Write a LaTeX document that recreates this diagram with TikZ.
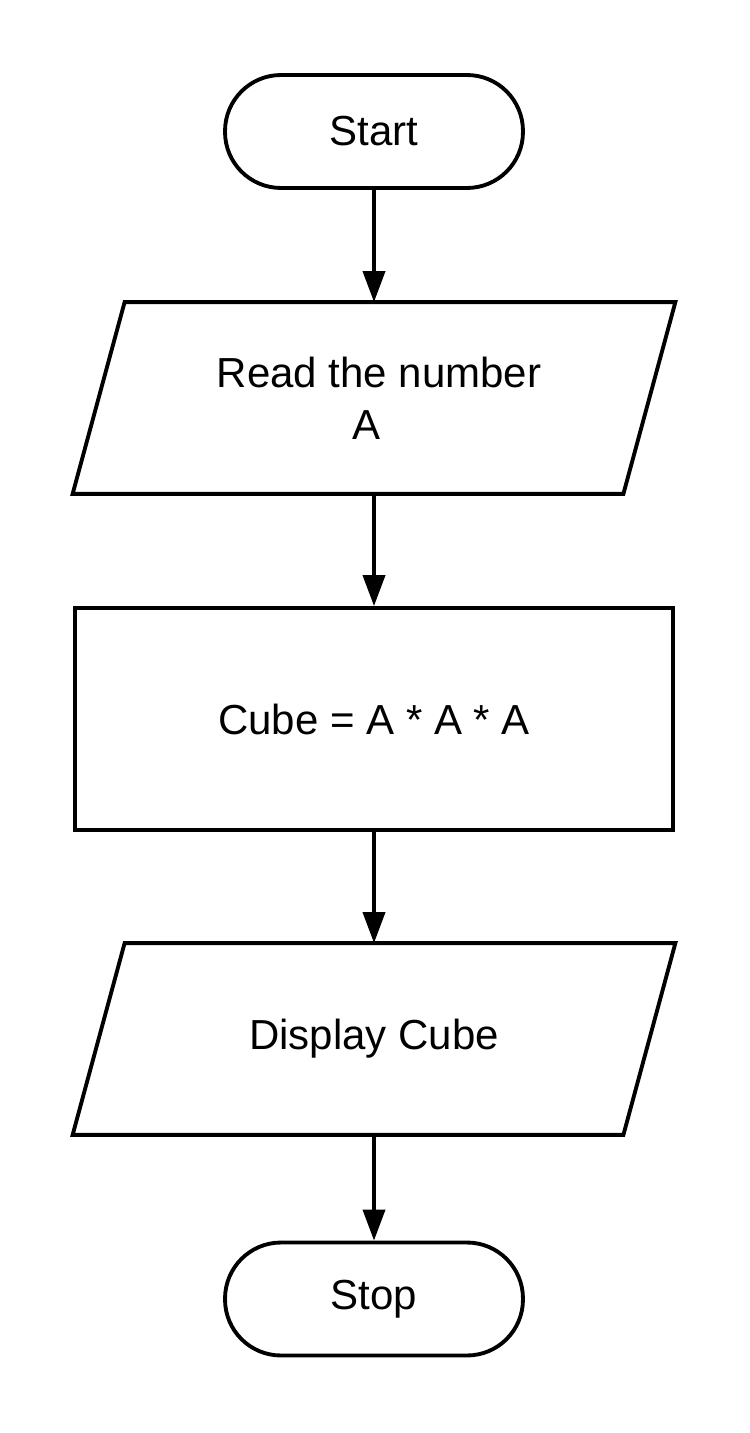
\documentclass[tikz,border=0pt]{standalone}
\usepackage{fontspec}
\setmainfont{Liberation Sans}
\usetikzlibrary{arrows.meta}

\begin{document}
\begin{tikzpicture}[x=0.02cm, y=-0.02cm, line width=2.2pt,
		font=\fontsize{23.9}{29.6}\selectfont,
		term/.style={draw, rounded corners=1.12cm, minimum width=5.96cm, minimum height=2.26cm},
		io/.style={minimum width=10.94cm, minimum height=3.76cm, inner sep=0pt, align=center},
		proc/.style={draw, minimum width=11.96cm, minimum height=4.44cm},
		flow/.style={-{Triangle[length=0.62cm, width=0.44cm]}}]
			\useasboundingbox (0, 0) rectangle (750, 1433);

			\node[term] (Start) at (374, 131.5) {Start};
			\node[io] (Read) at (374, 398) {\hspace*{0.2cm}Read the number\\A\hspace*{0.3cm}};
			\node[proc] (Cube) at (374, 719) {Cube = A * A * A};
			\node[io] (Show) at (374, 1039) {Display Cube};
			\node[term] (Stop) at (374, 1299) {Stop};

			% parallelograms round the io nodes
			\draw ([xshift=0.52cm]Read.north west) -- ([xshift=0.52cm]Read.north east) -- ([xshift=-0.52cm]Read.south east) -- ([xshift=-0.52cm]Read.south west) -- cycle;
			\draw ([xshift=0.52cm]Show.north west) -- ([xshift=0.52cm]Show.north east) -- ([xshift=-0.52cm]Show.south east) -- ([xshift=-0.52cm]Show.south west) -- cycle;

			\draw[flow] (Start) -- (Read);
			\draw[flow] (Read) -- (Cube);
			\draw[flow] (Cube) -- (Show);
			\draw[flow] (Show) -- (Stop);
			\end{tikzpicture}
\end{document}
